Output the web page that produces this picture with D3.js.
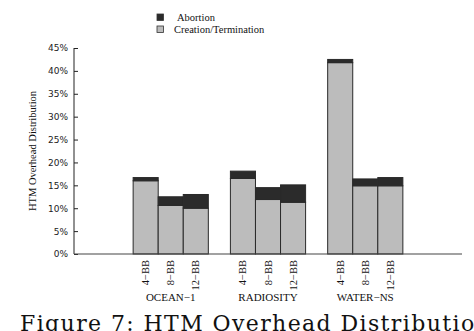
<!DOCTYPE html>
<html>
<head>
<meta charset="utf-8">
<script src="https://cdn.jsdelivr.net/npm/d3@7"></script>
<style>
  html, body { margin: 0; padding: 0; background: #fff; }
  svg { display: block; }
</style>
</head>
<body>
<svg id="chart" width="474" height="331"></svg>
<script>
// Benchmarks and block-size configurations
const groups = ["OCEAN\u22121", "RADIOSITY", "WATER\u2212NS"];
const configs = ["4\u2212BB", "8\u2212BB", "12\u2212BB"];

// Overhead shares (%) per bar, ordered group by group
const creationTermination = [16.0, 10.6, 10.0, 16.5, 11.9, 11.3, 41.8, 14.9, 14.9];
const abortion = [0.7, 1.9, 3.0, 1.6, 2.6, 3.8, 0.7, 1.5, 1.8];

const yTicks = [0, 5, 10, 15, 20, 25, 30, 35, 40, 45];
const seriesNames = ["Abortion", "Creation/Termination"];
const seriesColors = { "Abortion": "#2b2b2b", "Creation/Termination": "#bcbcbc" };

const svg = d3.select("#chart");
const serif = "'Liberation Serif', 'DejaVu Serif', serif";

const plot = { left: 74, right: 462, top: 48, bottom: 254 };

const y = d3.scaleLinear().domain([0, 45]).range([plot.bottom, plot.top]);

const xGroup = d3.scaleBand()
  .domain(groups)
  .range([plot.left, plot.right])
  .paddingInner(0.227)
  .paddingOuter(0.608);

const xConfig = d3.scaleBand()
  .domain(configs)
  .range([0, xGroup.bandwidth()]);

// Build rows for stacking
const rows = [];
groups.forEach((g, gi) => {
  configs.forEach((c, ci) => {
    const i = gi * configs.length + ci;
    rows.push({ group: g, config: c,
      "Creation/Termination": creationTermination[i],
      "Abortion": abortion[i] });
  });
});

const stack = d3.stack().keys(["Creation/Termination", "Abortion"]);
const layers = stack(rows);

// Bars
svg.append("g").selectAll("g")
  .data(layers)
  .join("g")
  .attr("fill", d => seriesColors[d.key])
  .selectAll("rect")
  .data(d => d)
  .join("rect")
  .attr("x", d => xGroup(d.data.group) + xConfig(d.data.config))
  .attr("width", xConfig.bandwidth())
  .attr("y", d => y(d[1]))
  .attr("height", d => y(d[0]) - y(d[1]))
  .attr("stroke", "#2a2a2a")
  .attr("stroke-width", 1);

// Y axis with inward ticks
const yAxis = d3.axisRight(y)
  .tickValues(yTicks)
  .tickSize(4)
  .tickFormat(d => d + "%");

const yg = svg.append("g")
  .attr("transform", `translate(${plot.left},0)`)
  .call(yAxis);
yg.select(".domain").remove();
yg.selectAll(".tick line").attr("stroke", "#222");
yg.selectAll(".tick text")
  .attr("x", -6)
  .attr("text-anchor", "end")
  .attr("fill", "#222")
  .style("font-family", "'DejaVu Sans', sans-serif")
  .style("font-size", "9px");

svg.append("line")
  .attr("x1", plot.left).attr("x2", plot.left)
  .attr("y1", y(45)).attr("y2", y(0))
  .attr("stroke", "#222").attr("stroke-width", 1);

// X baseline
svg.append("line")
  .attr("x1", plot.left).attr("x2", plot.right)
  .attr("y1", y(0)).attr("y2", y(0))
  .attr("stroke", "#444").attr("stroke-width", 1.2);

// Rotated configuration labels under each bar
svg.append("g").selectAll("text")
  .data(rows)
  .join("text")
  .attr("transform", d => {
    const cx = xGroup(d.group) + xConfig(d.config) + xConfig.bandwidth() / 2;
    return `translate(${cx + 3.5},${y(0) + 6}) rotate(-90)`;
  })
  .attr("text-anchor", "end")
  .attr("fill", "#111")
  .style("font-family", serif)
  .style("font-size", "10.5px")
  .text(d => d.config);

// Group labels
svg.append("g").selectAll("text")
  .data(groups)
  .join("text")
  .attr("x", d => xGroup(d) + xGroup.bandwidth() / 2)
  .attr("y", 301)
  .attr("text-anchor", "middle")
  .attr("fill", "#111")
  .style("font-family", serif)
  .style("font-size", "11px")
  .text(d => d);

// Y axis title
svg.append("text")
  .attr("transform", `translate(36,${(plot.top + plot.bottom) / 2}) rotate(-90)`)
  .attr("text-anchor", "middle")
  .attr("fill", "#111")
  .style("font-family", serif)
  .style("font-size", "10.5px")
  .text("HTM Overhead Distribution");

// Legend
const legend = svg.append("g").selectAll("g")
  .data(seriesNames)
  .join("g")
  .attr("transform", (d, i) => `translate(157,${14 + i * 12})`);
legend.append("rect")
  .attr("width", 6.5).attr("height", 6.5)
  .attr("fill", d => seriesColors[d])
  .attr("stroke", "#333").attr("stroke-width", 0.8);
legend.append("text")
  .attr("x", d => d === "Abortion" ? 20 : 17)
  .attr("y", 6.5)
  .attr("fill", "#111")
  .style("font-family", serif)
  .style("font-size", "10.5px")
  .text(d => d);

// Figure caption
svg.append("text")
  .attr("x", 20)
  .attr("y", 331)
  .attr("fill", "#111")
  .style("font-family", "'DejaVu Serif', serif")
  .style("font-size", "22px")
  .style("letter-spacing", "1.4px")
  .text("Figure 7: HTM Overhead Distribution");
</script>
</body>
</html>
